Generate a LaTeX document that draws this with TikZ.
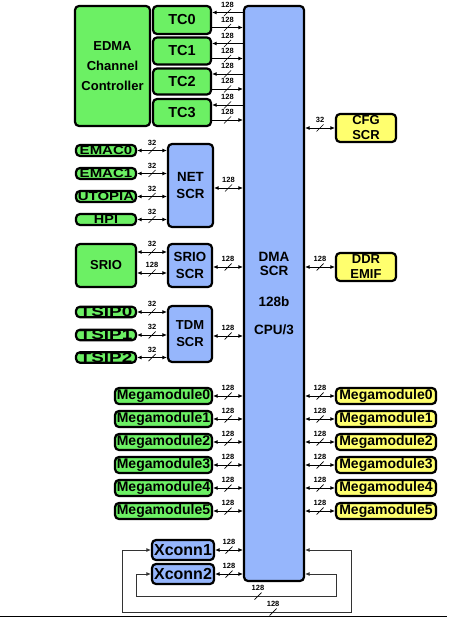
\documentclass[tikz,border=0pt]{standalone}
\usepackage{fontspec}
\usepackage{graphicx}
\setmainfont{Liberation Sans}
\usetikzlibrary{arrows.meta}
\definecolor{gfill}{RGB}{108,240,100}
\definecolor{bfill}{RGB}{150,182,252}
\definecolor{yfill}{RGB}{255,255,110}
\newcommand\widetxt[2]{\scalebox{#1}[1]{#2}}
\tikzset{
  box/.style={draw=black, line width=2.2pt, rounded corners=4pt, inner sep=0pt, align=center},
  gbox/.style={box, fill=gfill},
  bbox/.style={box, fill=bfill},
  ybox/.style={box, fill=yfill},
  fs/.style={font=\fontsize{#1}{#1}\selectfont\bfseries},
  tip/.tip={Latex[length=4.5pt,width=4pt]},
  link/.style={line width=0.9pt, tip-tip},
  tolft/.style={line width=0.9pt, tip-},
  torgt/.style={line width=0.9pt, -tip},
  loopline/.style={line width=0.8pt, draw=black!80, tip-tip},
  lbl/.style={font=\fontsize{7.5}{8}\selectfont\bfseries, inner sep=0pt},
  smallg/.style={gbox, minimum width=60pt, minimum height=11pt, fs=12},
  tsipg/.style={gbox, minimum width=60pt, minimum height=10.5pt, fs=13.5},
  pics/bus/.style={code={\draw[-, line width=0.7pt] (-3.5,3.5) -- (3.5,-3.5); \node[lbl] at (0,-8) {#1};}},
}
\begin{document}
\begin{tikzpicture}[x=1pt, y=-1pt]
\useasboundingbox (0,0) rectangle (469,636);

% central DMA SCR
\node[bbox, minimum width=60pt, minimum height=575pt, fs=13.5] (dma) at (274,293.5)
  {DMA\\[1pt]SCR\\[17pt]128b\\[15pt]CPU/3};

% EDMA + TCs
\node[gbox, minimum width=75pt, minimum height=120pt, font=\fontsize{13}{20}\selectfont\bfseries] (edma) at (112.5,66) {EDMA\\Channel\\Controller};
\node[gbox, minimum width=58pt, minimum height=28pt, fs=14.5] (tc0) at (182,20) {TC0};
\node[gbox, minimum width=58pt, minimum height=27pt, fs=14.5] (tc1) at (182,51) {TC1};
\node[gbox, minimum width=58pt, minimum height=26pt, fs=14.5] (tc2) at (182,81.5) {TC2};
\node[gbox, minimum width=58pt, minimum height=27pt, fs=14.5] (tc3) at (182,112.5) {TC3};

% right side
\node[ybox, minimum width=60pt, minimum height=28pt, font=\fontsize{13}{15}\selectfont\bfseries] (cfg) at (366,128) {CFG\\SCR};
\node[ybox, minimum width=60pt, minimum height=28pt, font=\fontsize{13}{15}\selectfont\bfseries] (ddr) at (366,267) {DDR\\EMIF};

% NET
\node[smallg] (emac0) at (106,150.5) {\widetxt{1.25}{EMAC0}};
\node[smallg] (emac1) at (106,173.5) {\widetxt{1.25}{EMAC1}};
\node[smallg] (utopia) at (106,196.5) {\widetxt{1.25}{UTOPIA}};
\node[smallg] (hpi) at (106,219.5) {\widetxt{1.2}{HPI}};
\node[bbox, minimum width=45pt, minimum height=83pt, font=\fontsize{13.3}{17}\selectfont\bfseries] (net) at (190.5,185.5) {NET\\SCR};

% SRIO
\node[gbox, minimum width=60pt, minimum height=43pt, fs=13] (srio) at (106,265.5) {SRIO};
\node[bbox, minimum width=44pt, minimum height=43pt, font=\fontsize{13.3}{17}\selectfont\bfseries] (sriosc) at (190,265.5) {SRIO\\SCR};

% TDM
\node[tsipg] (tsip0) at (106,312) {\widetxt{1.4}{TSIP0}};
\node[tsipg] (tsip1) at (106,335) {\widetxt{1.4}{TSIP1}};
\node[tsipg] (tsip2) at (106,357.5) {\widetxt{1.4}{TSIP2}};
\node[bbox, minimum width=44pt, minimum height=56pt, font=\fontsize{13}{17}\selectfont\bfseries] (tdm) at (190,334) {TDM\\SCR};

% Megamodules
\foreach \i/\y in {0/396,1/419,2/442,3/465,4/488,5/511}{
  \node[gbox, minimum width=97pt, minimum height=16pt, fs=14] (ml\i) at (163.5,\y) {Megamodule\i};
  \node[ybox, minimum width=100pt, minimum height=16pt, fs=14] (mr\i) at (386,\y) {Megamodule\i};
  \draw[link] (ml\i.east) -- (ml\i.east -| dma.west) pic[midway]{bus=128};
  \draw[link] (mr\i.west -| dma.east) -- (mr\i.west) pic[midway]{bus=128};
}

% Xconn
\node[bbox, minimum width=62pt, minimum height=20pt, fs=16] (xc1) at (183,550) {Xconn1};
\node[bbox, minimum width=62pt, minimum height=20pt, fs=16] (xc2) at (183,574) {Xconn2};

% TC arrows
\foreach \t in {tc0,tc1,tc2,tc3}{
  \draw[tolft] ([yshift=7.5pt]\t.east) -- ([yshift=7.5pt]\t.east -| dma.west) pic[midway]{bus=128};
  \draw[torgt] ([yshift=-7.5pt]\t.east) -- ([yshift=-7.5pt]\t.east -| dma.west) pic[midway]{bus=128};
}

% CFG / DDR
\draw[link] (cfg.west -| dma.east) -- (cfg.west) pic[midway]{bus=32};
\draw[link] (ddr.west -| dma.east) -- (ddr.west) pic[midway]{bus=128};

% NET
\foreach \n in {emac0,emac1,utopia,hpi}{
  \draw[link] (\n.east) -- (\n.east -| net.west) pic[midway]{bus=32};
}
\draw[link] ([yshift=-2.5pt]net.east) -- ([yshift=-2.5pt]net.east -| dma.west) pic[midway]{bus=128};

% SRIO
\draw[link] ([yshift=13.5pt]srio.east) -- ([yshift=13.5pt]srio.east -| sriosc.west) pic[midway]{bus=32};
\draw[link] ([yshift=-7.5pt]srio.east) -- ([yshift=-7.5pt]srio.east -| sriosc.west) pic[midway]{bus=128};
\draw[link] ([yshift=-1.5pt]sriosc.east) -- ([yshift=-1.5pt]sriosc.east -| dma.west) pic[midway]{bus=128};

% TDM
\foreach \n in {tsip0,tsip1,tsip2}{
  \draw[link] (\n.east) -- (\n.east -| tdm.west) pic[midway]{bus=32};
}
\draw[link] ([yshift=-2pt]tdm.east) -- ([yshift=-2pt]tdm.east -| dma.west) pic[midway]{bus=128};

% Xconn links
\draw[link] (xc1.east) -- (xc1.east -| dma.west) pic[midway]{bus=128};
\draw[link] (xc2.east) -- (xc2.east -| dma.west) pic[midway]{bus=128};

% loops
\coordinate (o1) at (122,612);
\coordinate (o2) at (351,612);
\coordinate (i1) at (136,596);
\coordinate (i2) at (336,596);
\draw[loopline] (xc1.west) -| (o1) -- (o2) |- (xc1.east -| dma.east);
\draw[loopline] (xc2.west) -| (i1) -- (i2) |- (xc2.east -| dma.east);
\path (i1) -- (i2) pic[pos=0.61]{bus=128};
\path (o1) -- (o2) pic[pos=0.66]{bus=128};

% bottom rule
\coordinate (r1) at (0,616);
\coordinate (r2) at (447,616);
\draw[line width=1pt] (r1) -- (r2);
\end{tikzpicture}
\end{document}
